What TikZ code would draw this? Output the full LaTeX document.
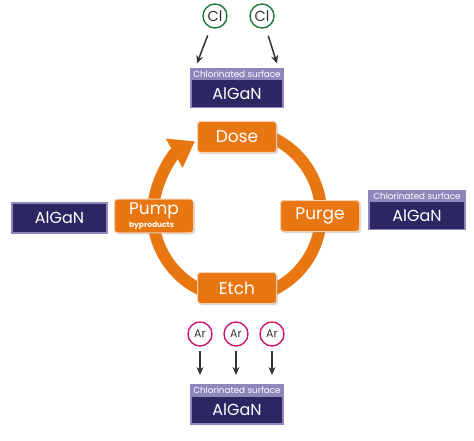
\documentclass[tikz,border=0pt]{standalone}
\usepackage{fontspec}
\setmainfont{Poppins}
\usetikzlibrary{arrows.meta,shadows,positioning}

\definecolor{cycleorange}{RGB}{232,119,18}
\definecolor{algannavy}{RGB}{44,38,98}
\definecolor{surflilac}{RGB}{142,135,188}
\definecolor{clgreen}{RGB}{31,122,58}
\definecolor{armagenta}{RGB}{200,28,116}
\definecolor{feedgray}{RGB}{51,51,51}

\begin{document}
\begin{tikzpicture}[x=1pt,y=1pt,
	stepbox/.style={rectangle,rounded corners=3pt,fill=cycleorange,draw=cycleorange!35!white,line width=1pt,
		minimum width=79pt,minimum height=31pt,text=white,font=\fontsize{17}{19}\selectfont,
		drop shadow={opacity=0.3,shadow xshift=1.5pt,shadow yshift=-1.5pt}},
	layer/.style={rectangle,fill=algannavy,draw=surflilac,line width=1.5pt,outer sep=0pt,
		minimum width=92pt,minimum height=28pt,text=white,font=\fontsize{16}{18}\selectfont},
	surface/.style={rectangle,fill=surflilac,draw=surflilac,line width=1.5pt,outer sep=0pt,inner sep=0pt,
		minimum width=92pt,minimum height=11pt,text=white,font=\fontsize{8.8}{9}\selectfont},
	atom/.style={circle,draw,line width=1.4pt,fill=white,minimum size=24pt,inner sep=0pt,text=feedgray},
	feed/.style={draw=feedgray,line width=1.5pt,-{Stealth[length=8pt,width=7pt]}}]
	\useasboundingbox (0,0) rectangle (474,440);
	% cycle ring
	\coordinate (hub) at (237,226);
	\draw[cycleorange,line width=12pt,-{Triangle[width=32pt,length=24pt]}] (hub) ++(440:84) arc[start angle=440,end angle=120,radius=84];
	% steps
	\node[stepbox] (dose) at (237,303) {Dose};
	\node[stepbox] (purge) at (320,224) {Purge};
	\node[stepbox] (etch) at (237,152) {Etch};
	\node[stepbox,align=left] (pump) at (154,224) {Pump\\[-6pt]{\fontsize{7.5}{8}\selectfont\bfseries byproducts}};
	% dose: chlorine on top
	\node[layer] (topsub) at (237,346.5) {AlGaN};
	\node[surface,above=0pt of topsub] (topcl) {Chlorinated surface};
	\node[atom,draw=clgreen,font=\fontsize{14.5}{15}\selectfont] (clA) at (215,424) {Cl};
	\node[atom,draw=clgreen,font=\fontsize{14.5}{15}\selectfont] (clB) at (262,424) {Cl};
	\draw[feed,shorten <=8pt] (clA) -- ([xshift=6pt,yshift=5pt]topcl.north west);
	\draw[feed,shorten <=8pt] (clB) -- ([xshift=-6pt,yshift=5pt]topcl.north east);
	% purge
	\node[layer,minimum width=96pt] (rightsub) at (417,224.5) {AlGaN};
	\node[surface,minimum width=96pt,above=0pt of rightsub] (rightcl) {Chlorinated surface};
	% etch: argon below
	\node[layer] (botsub) at (237,30) {AlGaN};
	\node[surface,above=0pt of botsub] (botcl) {Chlorinated surface};
	\foreach \name/\x in {arA/200,arB/236,arC/272}{
		\node[atom,draw=armagenta,font=\fontsize{11}{12}\selectfont] (\name) at (\x,106) {Ar};
		\draw[feed,shorten <=4pt,shorten >=10pt] (\name) -- (\name |- botcl.north);
	}
	% pump
	\node[layer,minimum width=95pt,minimum height=30pt] (leftsub) at (59.5,222) {AlGaN};
\end{tikzpicture}
\end{document}
